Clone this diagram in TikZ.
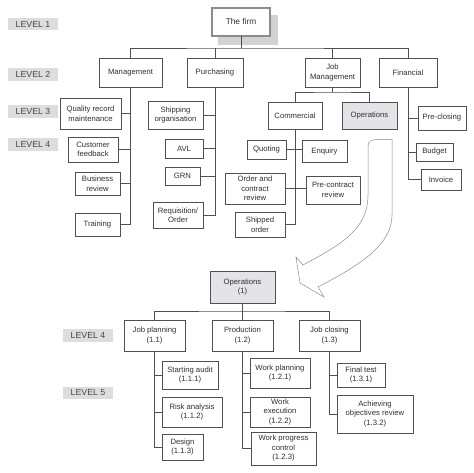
\documentclass[tikz,border=0pt]{standalone}
\usepackage{fontspec}
\setmainfont{Liberation Sans}
\definecolor{lncol}{HTML}{505050}
\definecolor{txcol}{HTML}{303030}
\definecolor{opsfill}{HTML}{E4E4E8}
\definecolor{shadowfill}{HTML}{D2D2D6}
\definecolor{lvfill}{HTML}{DDDDE0}
\begin{document}
\begin{tikzpicture}[x=1pt,y=-1pt,
  box/.style={draw=lncol, fill=white, line width=0.7pt, align=center, inner sep=1pt,
    font=\fontsize{7.7}{9.5}\selectfont, text=txcol},
  opsbox/.style={box, fill=opsfill},
  lvl/.style={fill=lvfill, minimum width=50pt, minimum height=12.5pt, inner sep=0pt,
    font=\fontsize{8.8}{10}\selectfont, text=black!72},
  conn/.style={draw=lncol, line width=0.7pt},
  bigarrow/.style={draw=black!45, line width=0.5pt, fill=white}
]
\useasboundingbox (0,0) rectangle (474,473);

% level labels
\node[lvl] (lv1) at (33,24) {LEVEL 1};
\node[lvl] (lv2) at (33,74.5) {LEVEL 2};
\node[lvl] (lv3) at (33,111.5) {LEVEL 3};
\node[lvl] (lv4) at (33,144.5) {LEVEL 4};
\node[lvl] (lv4b) at (88,335.5) {LEVEL 4};
\node[lvl] (lv5) at (88,393) {LEVEL 5};

% the firm
\fill[shadowfill] (218,15) rectangle (278,45);
\node[box, draw=black!75, double=black!45, double distance=1.4pt, line width=0.6pt,
  minimum width=58pt, minimum height=28pt, font=\fontsize{8.3}{10}\selectfont] (firm) at (241,22) {The firm};

% level 2
\node[box, minimum width=63pt, minimum height=29pt] (mgmt) at (130.5,72.5) {Management};
\node[box, minimum width=56pt, minimum height=29pt] (purch) at (215,72.5) {Purchasing};
\node[box, minimum width=55pt, minimum height=29pt] (jobm) at (332.5,72.5) {Job\\Management};
\node[box, minimum width=58pt, minimum height=29pt] (fin) at (408,72.5) {Financial};

\coordinate (bus1) at (241,48);
\draw[conn] (firm.south) -- (bus1);
\draw[conn] (mgmt.north) |- (bus1) -| (fin.north);
\draw[conn] (purch.north) -- (purch.north |- bus1);
\draw[conn] (jobm.north) -- (jobm.north |- bus1);

% management children
\node[box, minimum width=61pt, minimum height=31pt] (qrm) at (90.5,113.5) {Quality record\\maintenance};
\node[box, minimum width=50pt, minimum height=25pt] (custfb) at (93,149.5) {Customer\\feedback};
\node[box, minimum width=45pt, minimum height=23pt] (busrev) at (97.5,183.5) {Business\\review};
\node[box, minimum width=45pt, minimum height=23pt] (training) at (97.5,224.5) {Training};
\draw[conn] (mgmt.south) |- (training.east);
\draw[conn] (qrm.east) -- (qrm.east -| mgmt.south);
\draw[conn] (custfb.east) -- (custfb.east -| mgmt.south);
\draw[conn] (busrev.east) -- (busrev.east -| mgmt.south);

% purchasing children
\node[box, minimum width=55pt, minimum height=28pt] (shiporg) at (175.5,115) {Shipping\\organisation};
\node[box, minimum width=38pt, minimum height=19pt] (avl) at (184,148.5) {AVL};
\node[box, minimum width=35pt, minimum height=18pt] (grn) at (182.5,176) {GRN};
\node[box, minimum width=50pt, minimum height=26pt] (req) at (178,215) {Requisition/\\Order};
\draw[conn] (purch.south) |- (req.east);
\draw[conn] (shiporg.east) -- (shiporg.east -| purch.south);
\draw[conn] (avl.east) -- (avl.east -| purch.south);
\draw[conn] (grn.east) -- (grn.east -| purch.south);

% job management children
\node[box, minimum width=54pt, minimum height=27pt] (comm) at (295,115.5) {Commercial};
\node[opsbox, minimum width=55pt, minimum height=27pt] (ops) at (369.5,115.5) {Operations};
\coordinate (bus2) at (332.5,92);
\draw[conn] (jobm.south) -- (bus2);
\draw[conn] (comm.north) |- (bus2) -| (ops.north);

\node[box, minimum width=39pt, minimum height=19pt] (quoting) at (266.5,149.5) {Quoting};
\node[box, minimum width=45pt, minimum height=22pt] (enquiry) at (324.5,151.5) {Enquiry};
\node[box, minimum width=60pt, minimum height=31pt] (ocr) at (255,188.5) {Order and\\contract\\review};
\node[box, minimum width=54pt, minimum height=28pt] (pcr) at (333,190) {Pre-contract\\review};
\node[box, minimum width=50pt, minimum height=25pt] (shipped) at (260,224.5) {Shipped\\order};
\draw[conn] (comm.south) |- (shipped.east);
\draw[conn] (quoting.east) -- (quoting.east -| enquiry.west);
\draw[conn] (ocr.east) -- (ocr.east -| pcr.west);

% financial children
\node[box, minimum width=48pt, minimum height=24pt] (preclosing) at (442,118) {Pre-closing};
\node[box, minimum width=37pt, minimum height=18pt] (budget) at (434.5,152) {Budget};
\node[box, minimum width=40pt, minimum height=21pt] (invoice) at (441,179.5) {Invoice};
\draw[conn] (fin.south) |- (invoice.west);
\draw[conn] (preclosing.west) -- (preclosing.west -| fin.south);
\draw[conn] (budget.west) -- (budget.west -| fin.south);

% big curved arrow
\draw[bigarrow] (368,146) .. controls (368,141) and (372,139.5) .. (378,139.5) -- (392,139.5)
  -- (392,215) .. controls (392,245) and (360,265) .. (318,287)
  -- (324,297) -- (300,283) -- (296,257) -- (303,265)
  .. controls (340,245) and (368,230) .. (368,195) -- cycle;

% lower chart
\node[opsbox, minimum width=65pt, minimum height=32pt] (ops1) at (242.5,287) {Operations\\(1)};
\node[box, minimum width=61pt, minimum height=31pt] (jp) at (154.5,335.5) {Job planning\\(1.1)};
\node[box, minimum width=61pt, minimum height=31pt] (prod) at (242.5,335.5) {Production\\(1.2)};
\node[box, minimum width=61pt, minimum height=31pt] (jc) at (329.5,335.5) {Job closing\\(1.3)};
\coordinate (bus3) at (242.5,311);
\draw[conn] (ops1.south) -- (bus3);
\draw[conn] (jp.north) |- (bus3) -| (jc.north);
\draw[conn] (prod.north) -- (bus3);

\node[box, minimum width=56pt, minimum height=28pt] (sa) at (190,375) {Starting audit\\(1.1.1)};
\node[box, minimum width=60pt, minimum height=30pt] (ra) at (192,412) {Risk analysis\\(1.1.2)};
\node[box, minimum width=41pt, minimum height=26pt] (design) at (182.5,447) {Design\\(1.1.3)};
\draw[conn] (jp.south) |- (design.west);
\draw[conn] (sa.west) -- (sa.west -| jp.south);
\draw[conn] (ra.west) -- (ra.west -| jp.south);

\node[box, minimum width=60pt, minimum height=30pt] (wp) at (280,373) {Work planning\\(1.2.1)};
\node[box, minimum width=60pt, minimum height=30pt] (we) at (280,412) {Work\\execution\\(1.2.2)};
\node[box, minimum width=65pt, minimum height=33pt] (wpc) at (283.5,448.5) {Work progress\\control\\(1.2.3)};
\draw[conn] (prod.south) |- (wpc.west);
\draw[conn] (wp.west) -- (wp.west -| prod.south);
\draw[conn] (we.west) -- (we.west -| prod.south);

\node[box, minimum width=48pt, minimum height=24pt] (ft) at (361,375) {Final test\\(1.3.1)};
\node[box, minimum width=76pt, minimum height=38pt] (aor) at (375,414) {Achieving\\objectives review\\(1.3.2)};
\draw[conn] (jc.south) |- (aor.west);
\draw[conn] (ft.west) -- (ft.west -| jc.south);
\end{tikzpicture}
\end{document}
